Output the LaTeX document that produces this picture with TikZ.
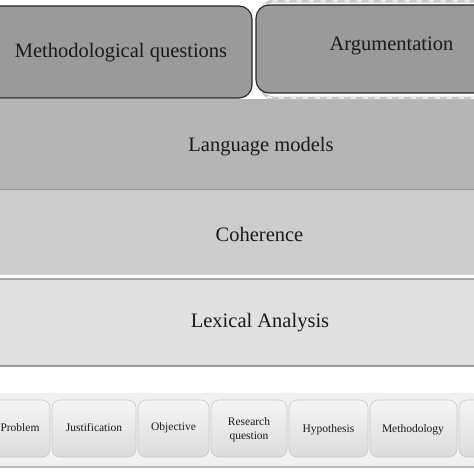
\documentclass[tikz,border=0pt]{standalone}
\usepackage{fontspec}
\setmainfont{Liberation Serif}
\definecolor{topgray}{HTML}{9A9A9A}
\definecolor{lmgray}{HTML}{B5B5B5}
\definecolor{cohgray}{HTML}{CDCDCD}
\definecolor{lexgray}{HTML}{E0E0E0}
\definecolor{bandgray}{HTML}{F1F1F1}
\definecolor{txt}{HTML}{1A1A1A}
\tikzset{
  bigtext/.style={font=\fontsize{20.5}{23}\selectfont, text=txt, inner sep=0pt},
  smalltext/.style={font=\fontsize{11.5}{14}\selectfont, text=txt, inner sep=0pt, align=center},
  topbox/.style={fill=topgray, draw=black!85, line width=1.1pt, rounded corners=13pt},
  stepbox/.style={rounded corners=8pt, top color=white!96!black, bottom color=black!14, draw=black!22, line width=0.6pt},
}
\begin{document}
\begin{tikzpicture}[x=1pt,y=-1pt]
\useasboundingbox (0,0) rectangle (474,474);
\clip (0,0) rectangle (474,474);
\fill[white] (0,0) rectangle (474,474);
% layers
\fill[lexgray] (-10,279) rectangle (490,366);
\draw[black!35, line width=1.2pt] (-10,279) -- (490,279);
\draw[black!40, line width=1.5pt] (-10,366) -- (490,366);
\fill[cohgray] (-10,190) rectangle (490,275);
\draw[white, line width=1.2pt] (-10,276.5) -- (490,276.5);
\fill[lmgray] (-10,99) rectangle (490,189);
\draw[black!42, line width=1.2pt] (-10,189.5) -- (490,189.5);
% top dashed frame behind Argumentation
\draw[black!22, line width=3pt, rounded corners=14pt] (260,1) rectangle (500,98);
\draw[white, line width=1.4pt, dash pattern=on 5pt off 7pt, rounded corners=14pt] (260,1) rectangle (500,98);
% top boxes
\draw[topbox] (-20,6) rectangle (252,98);
\draw[topbox] (256,5) rectangle (500,93);
\node[bigtext] (mq) at (121,53) {Methodological questions};
\node[bigtext] (arg) at (391.5,46) {Argumentation};
\node[bigtext] (lm) at (261,147) {Language models};
\node[bigtext] (coh) at (259.5,234) {Coherence};
\node[bigtext] (lex) at (260,323) {Lexical Analysis};
% bottom band
\fill[bandgray] (-10,393) rectangle (490,467);
\draw[black!28, line width=1.5pt] (-10,467) -- (490,467);
% step boxes
\draw[stepbox] (-20,400) rectangle (50,457);
\draw[stepbox] (52,400) rectangle (136,457);
\draw[stepbox] (138,400) rectangle (209,457);
\draw[stepbox] (211,400) rectangle (287,457);
\draw[stepbox] (289,400) rectangle (368,457);
\draw[stepbox] (370,400) rectangle (457,457);
\draw[stepbox] (459,400) rectangle (540,457);
\node[smalltext] (p1) at (20,428) {Problem};
\node[smalltext] (p2) at (94,428) {Justification};
\node[smalltext] (p3) at (173.5,428) {Objective};
\node[smalltext] (p4) at (249,430) {Research\\question};
\node[smalltext] (p5) at (328.5,430) {Hypothesis};
\node[smalltext] (p6) at (413,430) {Methodology};
\end{tikzpicture}
\end{document}
